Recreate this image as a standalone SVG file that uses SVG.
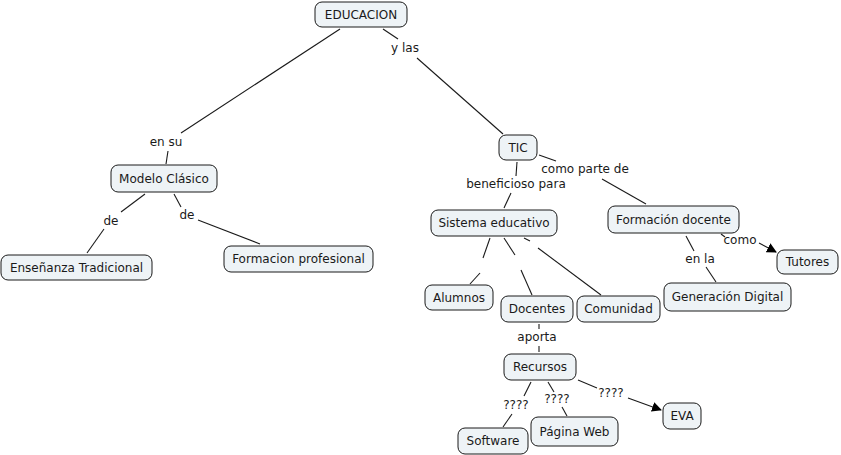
<svg xmlns="http://www.w3.org/2000/svg" width="841" height="455" viewBox="0 0 841 455">
<style>
.n rect{fill:#eef3f6;stroke:#1a1a1a;stroke-width:1;}
text{font-family:"DejaVu Sans",Verdana,sans-serif;font-size:12px;fill:#1a1a1a;text-anchor:middle;dominant-baseline:central;}
.c line{stroke:#1a1a1a;stroke-width:1.1;}
</style>
<defs>
<marker id="ah" viewBox="0 0 10 10" refX="9" refY="5" markerWidth="10" markerHeight="10" markerUnits="userSpaceOnUse" orient="auto"><path d="M0,0 L10,5 L0,10 z" fill="#000"/></marker>
</defs>
<rect width="841" height="455" fill="#fff"/>
<g class="c" id="connectors">
<line x1="383" y1="29" x2="398" y2="39"/>
<line x1="417" y1="58" x2="503" y2="134"/>
<line x1="340" y1="29" x2="181" y2="133"/>
<line x1="168" y1="151" x2="166" y2="164"/>
<line x1="145" y1="194" x2="121" y2="212"/>
<line x1="104" y1="229" x2="87" y2="253"/>
<line x1="174" y1="194" x2="181" y2="207"/>
<line x1="198" y1="220" x2="260" y2="244"/>
<line x1="517" y1="162" x2="516" y2="176"/>
<line x1="511" y1="193" x2="504" y2="208"/>
<line x1="539" y1="155" x2="556" y2="161"/>
<line x1="602" y1="179" x2="646" y2="204"/>
<line x1="490" y1="238" x2="483" y2="258"/>
<line x1="480" y1="273" x2="470" y2="284"/>
<line x1="504" y1="238" x2="515" y2="255"/>
<line x1="521" y1="270" x2="532" y2="295"/>
<line x1="524" y1="238" x2="530" y2="241"/>
<line x1="538" y1="248" x2="601" y2="295"/>
<line x1="686" y1="236" x2="694" y2="251"/>
<line x1="706" y1="267" x2="716" y2="282"/>
<line x1="721" y1="234" x2="725" y2="237"/>
<line x1="759" y1="243" x2="776" y2="252" marker-end="url(#ah)"/>
<line x1="539" y1="324" x2="539" y2="329"/>
<line x1="539" y1="346" x2="539" y2="352"/>
<line x1="531" y1="382" x2="524" y2="396"/>
<line x1="512" y1="414" x2="503" y2="427"/>
<line x1="548" y1="382" x2="554" y2="392"/>
<line x1="562" y1="407" x2="567" y2="416"/>
<line x1="578" y1="380" x2="597" y2="388"/>
<line x1="628" y1="398" x2="661" y2="410" marker-end="url(#ah)"/>
</g>
<g id="labels">
<text x="405" y="48">y las</text>
<text x="166" y="142">en su</text>
<text x="111" y="221">de</text>
<text x="187" y="215">de</text>
<text x="516" y="184">beneficioso para</text>
<text x="585" y="169">como parte de</text>
<text x="740" y="240">como</text>
<text x="700" y="259">en la</text>
<text x="537" y="337">aporta</text>
<text x="516" y="405">????</text>
<text x="557" y="399">????</text>
<text x="611" y="393">????</text>
</g>
<g class="n" id="educacion"><rect x="315" y="2" width="92" height="25" rx="7"/><text x="361" y="14.5">EDUCACION</text></g>
<g class="n" id="tic"><rect x="499" y="135" width="38" height="25" rx="7"/><text x="518" y="147.5">TIC</text></g>
<g class="n" id="modelo"><rect x="111" y="165" width="106" height="27" rx="7"/><text x="164" y="178.5">Modelo Clásico</text></g>
<g class="n" id="ensenanza"><rect x="1" y="255" width="151" height="25" rx="7"/><text x="76.5" y="267.5">Enseñanza Tradicional</text></g>
<g class="n" id="formacionprof"><rect x="224" y="246" width="149" height="26" rx="7"/><text x="298.5" y="259">Formacion profesional</text></g>
<g class="n" id="sistema"><rect x="431" y="210" width="126" height="26" rx="7"/><text x="494" y="223">Sistema educativo</text></g>
<g class="n" id="formaciondoc"><rect x="608" y="206" width="131" height="27" rx="7"/><text x="673.5" y="219.5">Formación docente</text></g>
<g class="n" id="tutores"><rect x="777" y="250" width="61" height="24" rx="7"/><text x="807.5" y="262">Tutores</text></g>
<g class="n" id="alumnos"><rect x="425" y="285" width="68" height="25" rx="7"/><text x="459" y="297.5">Alumnos</text></g>
<g class="n" id="docentes"><rect x="501" y="296" width="72" height="26" rx="7"/><text x="537" y="309">Docentes</text></g>
<g class="n" id="comunidad"><rect x="577" y="296" width="83" height="26" rx="7"/><text x="618.5" y="309">Comunidad</text></g>
<g class="n" id="generacion"><rect x="664" y="283" width="127" height="28" rx="7"/><text x="727.5" y="297">Generación Digital</text></g>
<g class="n" id="recursos"><rect x="504" y="354" width="72" height="26" rx="7"/><text x="540" y="367">Recursos</text></g>
<g class="n" id="eva"><rect x="663" y="403" width="38" height="26" rx="7"/><text x="682" y="416">EVA</text></g>
<g class="n" id="software"><rect x="458" y="428" width="70" height="26" rx="7"/><text x="493" y="441">Software</text></g>
<g class="n" id="paginaweb"><rect x="531" y="417" width="87" height="29" rx="7"/><text x="574.5" y="431.5">Página Web</text></g>
</svg>
